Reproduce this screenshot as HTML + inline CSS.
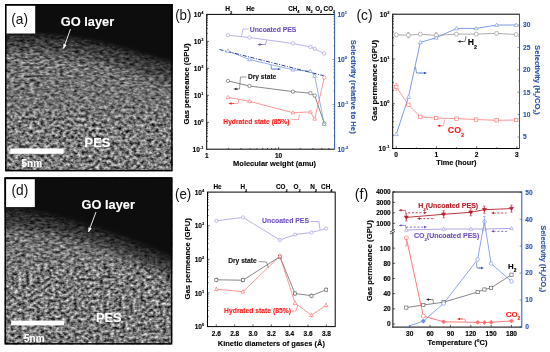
<!DOCTYPE html>
<html><head><meta charset="utf-8"><title>Figure</title>
<style>
html,body{margin:0;padding:0;background:#fff;}
body{width:550px;height:352px;overflow:hidden;}
svg{display:block;font-family:'Liberation Sans', Arial, sans-serif;}

</style></head>
<body>
<svg width="550" height="352" viewBox="0 0 550 352">
<defs>
<filter id="streaka" x="5.1" y="4.1" width="167.5" height="167.2" filterUnits="userSpaceOnUse" color-interpolation-filters="sRGB">
<feTurbulence type="fractalNoise" baseFrequency="0.2 0.45" numOctaves="2" seed="10"/>
<feColorMatrix type="matrix" values="1.3 0 0 0 -0.22  1.3 0 0 0 -0.22  1.3 0 0 0 -0.22  0 0 0 0 1"/>
</filter>
<linearGradient id="sgrada" x1="0" y1="40" x2="0" y2="125" gradientUnits="userSpaceOnUse"><stop offset="0" stop-color="#fff" stop-opacity="0.85"/><stop offset="0.55" stop-color="#fff" stop-opacity="0.6"/><stop offset="1" stop-color="#fff" stop-opacity="0"/></linearGradient>
<mask id="smaska" maskUnits="userSpaceOnUse" x="5.1" y="4.1" width="167.5" height="167.2"><rect x="5.1" y="4.1" width="167.5" height="167.2" fill="url(#sgrada)"/></mask>
<clipPath id="clipa"><rect x="5.1" y="4.1" width="167.5" height="167.2"/></clipPath>
<filter id="noisea" x="5.1" y="4.1" width="167.5" height="167.2" filterUnits="userSpaceOnUse" color-interpolation-filters="sRGB">
<feTurbulence type="fractalNoise" baseFrequency="0.27 0.33" numOctaves="2" seed="7"/>
<feColorMatrix type="matrix" values="1.3 0 0 0 -0.18  1.3 0 0 0 -0.18  1.3 0 0 0 -0.18  0 0 0 0 1"/>
</filter>
<filter id="blura" x="-20%" y="-20%" width="140%" height="140%"><feGaussianBlur stdDeviation="2.8"/></filter>
<filter id="blurba" x="-20%" y="-20%" width="140%" height="140%"><feGaussianBlur stdDeviation="6"/></filter>
<filter id="streakd" x="4.6" y="177.4" width="167.7" height="167.1" filterUnits="userSpaceOnUse" color-interpolation-filters="sRGB">
<feTurbulence type="fractalNoise" baseFrequency="0.2 0.45" numOctaves="2" seed="14"/>
<feColorMatrix type="matrix" values="1.3 0 0 0 -0.22  1.3 0 0 0 -0.22  1.3 0 0 0 -0.22  0 0 0 0 1"/>
</filter>
<linearGradient id="sgradd" x1="0" y1="215" x2="0" y2="270" gradientUnits="userSpaceOnUse"><stop offset="0" stop-color="#fff" stop-opacity="0.85"/><stop offset="0.55" stop-color="#fff" stop-opacity="0.6"/><stop offset="1" stop-color="#fff" stop-opacity="0"/></linearGradient>
<mask id="smaskd" maskUnits="userSpaceOnUse" x="4.6" y="177.4" width="167.7" height="167.1"><rect x="4.6" y="177.4" width="167.7" height="167.1" fill="url(#sgradd)"/></mask>
<clipPath id="clipd"><rect x="4.6" y="177.4" width="167.7" height="167.1"/></clipPath>
<filter id="noised" x="4.6" y="177.4" width="167.7" height="167.1" filterUnits="userSpaceOnUse" color-interpolation-filters="sRGB">
<feTurbulence type="fractalNoise" baseFrequency="0.27 0.33" numOctaves="2" seed="11"/>
<feColorMatrix type="matrix" values="1.3 0 0 0 -0.18  1.3 0 0 0 -0.18  1.3 0 0 0 -0.18  0 0 0 0 1"/>
</filter>
<filter id="blurd" x="-20%" y="-20%" width="140%" height="140%"><feGaussianBlur stdDeviation="2.8"/></filter>
<filter id="blurbd" x="-20%" y="-20%" width="140%" height="140%"><feGaussianBlur stdDeviation="6"/></filter>
</defs>
<rect x="0" y="0" width="550" height="352" fill="#fff"/>
<g clip-path="url(#clipa)">
<rect x="5.1" y="4.1" width="167.5" height="167.20000000000002" fill="#6e6e6e"/>
<rect x="5.1" y="4.1" width="167.5" height="167.20000000000002" filter="url(#noisea)"/>
<rect x="5.1" y="4.1" width="167.5" height="167.20000000000002" filter="url(#streaka)" mask="url(#smaska)"/>
<path d="M -10 -10 L 190 -10 L 190 88 C 160 80, 140 72, 120 66 C 95 58, 60 50, -10 48 Z" fill="#000" fill-opacity="0.5" filter="url(#blurba)"/>
<path d="M -10 -10 L 190 -10 L 190 67 C 160 62, 145 55, 125 50 C 100 43, 75 38, 40 35.5 C 25 34.5, 10 34, -10 34 Z" fill="#0a0a0a" filter="url(#blura)"/>
</g>
<rect x="5.8" y="4.8" width="166.1" height="165.8" fill="none" stroke="#000" stroke-width="1.4"/>
<rect x="6.6" y="5.8" width="28.6" height="27.7" fill="#fff"/>
<text x="19.7" y="24.3" font-size="15" fill="#111" text-anchor="middle" textLength="16.8" lengthAdjust="spacingAndGlyphs">(a)</text>
<text x="60.8" y="26.3" font-size="12.8" fill="#fff" font-weight="bold" text-anchor="start"  stroke="#fff" stroke-width="0.12">GO layer</text>
<line x1="70.50" y1="29.00" x2="63.50" y2="48.50" stroke="#fff" stroke-width="0.9" />
<polygon points="63.5,48.5 63.3,43.7 66.7,44.9" fill="#fff"/>
<text x="84.6" y="147.0" font-size="12.8" fill="#fff" font-weight="bold" text-anchor="start"  stroke="#fff" stroke-width="0.12">PES</text>
<rect x="10.2" y="148.4" width="53.2" height="5.400000000000006" fill="#fff"/>
<text x="21.5" y="167.3" font-size="10" fill="#fff" font-weight="bold" text-anchor="start"  stroke="#fff" stroke-width="0.12">5nm</text>
<g clip-path="url(#clipd)">
<rect x="4.6" y="177.4" width="167.70000000000002" height="167.1" fill="#6e6e6e"/>
<rect x="4.6" y="177.4" width="167.70000000000002" height="167.1" filter="url(#noised)"/>
<rect x="4.6" y="177.4" width="167.70000000000002" height="167.1" filter="url(#streakd)" mask="url(#smaskd)"/>
<path d="M -10 160 L 190 160 L 190 284 C 165 272, 140 261, 115 251 C 90 241, 60 231, -10 225 Z" fill="#000" fill-opacity="0.6" filter="url(#blurbd)"/>
<path d="M -10 160 L 190 160 L 190 266 C 170 258, 150 249, 125 239 C 100 230, 65 219, 30 211.5 C 15 209.5, 5 208.5, -10 208.5 Z" fill="#0a0a0a" filter="url(#blurd)"/>
</g>
<rect x="5.3" y="178.1" width="166.3" height="165.7" fill="none" stroke="#000" stroke-width="1.4"/>
<rect x="6.1" y="179.2" width="28.699999999999996" height="27.900000000000006" fill="#fff"/>
<text x="19.9" y="194.9" font-size="15" fill="#111" text-anchor="middle" textLength="16.8" lengthAdjust="spacingAndGlyphs">(d)</text>
<text x="81.6" y="208.8" font-size="12.8" fill="#fff" font-weight="bold" text-anchor="start"  stroke="#fff" stroke-width="0.12">GO layer</text>
<line x1="96.00" y1="212.00" x2="88.50" y2="232.00" stroke="#fff" stroke-width="0.9" />
<polygon points="88.5,232.0 88.4,227.2 91.8,228.4" fill="#fff"/>
<text x="96.0" y="321.5" font-size="12.8" fill="#fff" font-weight="bold" text-anchor="start"  stroke="#fff" stroke-width="0.12">PES</text>
<rect x="11.2" y="320.6" width="52.8" height="4.7999999999999545" fill="#fff"/>
<text x="24.0" y="342.1" font-size="10" fill="#fff" font-weight="bold" text-anchor="start"  stroke="#fff" stroke-width="0.12">5nm</text>
<text x="183.3" y="19.8" font-size="15" fill="#111" text-anchor="middle" textLength="16.2" lengthAdjust="spacingAndGlyphs">(b)</text>
<text x="364.5" y="19.8" font-size="15" fill="#111" text-anchor="middle" textLength="16.2" lengthAdjust="spacingAndGlyphs">(c)</text>
<text x="183.2" y="198.7" font-size="15" fill="#111" text-anchor="middle" textLength="16.2" lengthAdjust="spacingAndGlyphs">(e)</text>
<text x="361.5" y="198.7" font-size="15" fill="#111" text-anchor="middle" textLength="13.6" lengthAdjust="spacingAndGlyphs">(f)</text>
<line x1="206.70" y1="141.27" x2="207.90" y2="141.27" stroke="#000" stroke-width="0.6" />
<line x1="206.70" y1="136.52" x2="207.90" y2="136.52" stroke="#000" stroke-width="0.6" />
<line x1="206.70" y1="133.14" x2="207.90" y2="133.14" stroke="#000" stroke-width="0.6" />
<line x1="206.70" y1="130.53" x2="207.90" y2="130.53" stroke="#000" stroke-width="0.6" />
<line x1="206.70" y1="128.39" x2="207.90" y2="128.39" stroke="#000" stroke-width="0.6" />
<line x1="206.70" y1="126.58" x2="207.90" y2="126.58" stroke="#000" stroke-width="0.6" />
<line x1="206.70" y1="125.02" x2="207.90" y2="125.02" stroke="#000" stroke-width="0.6" />
<line x1="206.70" y1="123.64" x2="207.90" y2="123.64" stroke="#000" stroke-width="0.6" />
<line x1="206.70" y1="122.40" x2="208.90" y2="122.40" stroke="#000" stroke-width="0.6" />
<line x1="206.70" y1="114.27" x2="207.90" y2="114.27" stroke="#000" stroke-width="0.6" />
<line x1="206.70" y1="109.52" x2="207.90" y2="109.52" stroke="#000" stroke-width="0.6" />
<line x1="206.70" y1="106.14" x2="207.90" y2="106.14" stroke="#000" stroke-width="0.6" />
<line x1="206.70" y1="103.53" x2="207.90" y2="103.53" stroke="#000" stroke-width="0.6" />
<line x1="206.70" y1="101.39" x2="207.90" y2="101.39" stroke="#000" stroke-width="0.6" />
<line x1="206.70" y1="99.58" x2="207.90" y2="99.58" stroke="#000" stroke-width="0.6" />
<line x1="206.70" y1="98.02" x2="207.90" y2="98.02" stroke="#000" stroke-width="0.6" />
<line x1="206.70" y1="96.64" x2="207.90" y2="96.64" stroke="#000" stroke-width="0.6" />
<line x1="206.70" y1="95.40" x2="208.90" y2="95.40" stroke="#000" stroke-width="0.6" />
<line x1="206.70" y1="87.27" x2="207.90" y2="87.27" stroke="#000" stroke-width="0.6" />
<line x1="206.70" y1="82.52" x2="207.90" y2="82.52" stroke="#000" stroke-width="0.6" />
<line x1="206.70" y1="79.14" x2="207.90" y2="79.14" stroke="#000" stroke-width="0.6" />
<line x1="206.70" y1="76.53" x2="207.90" y2="76.53" stroke="#000" stroke-width="0.6" />
<line x1="206.70" y1="74.39" x2="207.90" y2="74.39" stroke="#000" stroke-width="0.6" />
<line x1="206.70" y1="72.58" x2="207.90" y2="72.58" stroke="#000" stroke-width="0.6" />
<line x1="206.70" y1="71.02" x2="207.90" y2="71.02" stroke="#000" stroke-width="0.6" />
<line x1="206.70" y1="69.64" x2="207.90" y2="69.64" stroke="#000" stroke-width="0.6" />
<line x1="206.70" y1="68.40" x2="208.90" y2="68.40" stroke="#000" stroke-width="0.6" />
<line x1="206.70" y1="60.27" x2="207.90" y2="60.27" stroke="#000" stroke-width="0.6" />
<line x1="206.70" y1="55.52" x2="207.90" y2="55.52" stroke="#000" stroke-width="0.6" />
<line x1="206.70" y1="52.14" x2="207.90" y2="52.14" stroke="#000" stroke-width="0.6" />
<line x1="206.70" y1="49.53" x2="207.90" y2="49.53" stroke="#000" stroke-width="0.6" />
<line x1="206.70" y1="47.39" x2="207.90" y2="47.39" stroke="#000" stroke-width="0.6" />
<line x1="206.70" y1="45.58" x2="207.90" y2="45.58" stroke="#000" stroke-width="0.6" />
<line x1="206.70" y1="44.02" x2="207.90" y2="44.02" stroke="#000" stroke-width="0.6" />
<line x1="206.70" y1="42.64" x2="207.90" y2="42.64" stroke="#000" stroke-width="0.6" />
<line x1="206.70" y1="41.40" x2="208.90" y2="41.40" stroke="#000" stroke-width="0.6" />
<line x1="206.70" y1="33.27" x2="207.90" y2="33.27" stroke="#000" stroke-width="0.6" />
<line x1="206.70" y1="28.52" x2="207.90" y2="28.52" stroke="#000" stroke-width="0.6" />
<line x1="206.70" y1="25.14" x2="207.90" y2="25.14" stroke="#000" stroke-width="0.6" />
<line x1="206.70" y1="22.53" x2="207.90" y2="22.53" stroke="#000" stroke-width="0.6" />
<line x1="206.70" y1="20.39" x2="207.90" y2="20.39" stroke="#000" stroke-width="0.6" />
<line x1="206.70" y1="18.58" x2="207.90" y2="18.58" stroke="#000" stroke-width="0.6" />
<line x1="206.70" y1="17.02" x2="207.90" y2="17.02" stroke="#000" stroke-width="0.6" />
<line x1="206.70" y1="15.64" x2="207.90" y2="15.64" stroke="#000" stroke-width="0.6" />
<line x1="334.60" y1="135.85" x2="333.40" y2="135.85" stroke="#2b55b0" stroke-width="0.6" />
<line x1="334.60" y1="127.93" x2="333.40" y2="127.93" stroke="#2b55b0" stroke-width="0.6" />
<line x1="334.60" y1="122.31" x2="333.40" y2="122.31" stroke="#2b55b0" stroke-width="0.6" />
<line x1="334.60" y1="117.95" x2="333.40" y2="117.95" stroke="#2b55b0" stroke-width="0.6" />
<line x1="334.60" y1="114.38" x2="333.40" y2="114.38" stroke="#2b55b0" stroke-width="0.6" />
<line x1="334.60" y1="111.37" x2="333.40" y2="111.37" stroke="#2b55b0" stroke-width="0.6" />
<line x1="334.60" y1="108.76" x2="333.40" y2="108.76" stroke="#2b55b0" stroke-width="0.6" />
<line x1="334.60" y1="106.46" x2="333.40" y2="106.46" stroke="#2b55b0" stroke-width="0.6" />
<line x1="334.60" y1="104.40" x2="332.40" y2="104.40" stroke="#2b55b0" stroke-width="0.6" />
<line x1="334.60" y1="90.85" x2="333.40" y2="90.85" stroke="#2b55b0" stroke-width="0.6" />
<line x1="334.60" y1="82.93" x2="333.40" y2="82.93" stroke="#2b55b0" stroke-width="0.6" />
<line x1="334.60" y1="77.31" x2="333.40" y2="77.31" stroke="#2b55b0" stroke-width="0.6" />
<line x1="334.60" y1="72.95" x2="333.40" y2="72.95" stroke="#2b55b0" stroke-width="0.6" />
<line x1="334.60" y1="69.38" x2="333.40" y2="69.38" stroke="#2b55b0" stroke-width="0.6" />
<line x1="334.60" y1="66.37" x2="333.40" y2="66.37" stroke="#2b55b0" stroke-width="0.6" />
<line x1="334.60" y1="63.76" x2="333.40" y2="63.76" stroke="#2b55b0" stroke-width="0.6" />
<line x1="334.60" y1="61.46" x2="333.40" y2="61.46" stroke="#2b55b0" stroke-width="0.6" />
<line x1="334.60" y1="59.40" x2="332.40" y2="59.40" stroke="#2b55b0" stroke-width="0.6" />
<line x1="334.60" y1="45.85" x2="333.40" y2="45.85" stroke="#2b55b0" stroke-width="0.6" />
<line x1="334.60" y1="37.93" x2="333.40" y2="37.93" stroke="#2b55b0" stroke-width="0.6" />
<line x1="334.60" y1="32.31" x2="333.40" y2="32.31" stroke="#2b55b0" stroke-width="0.6" />
<line x1="334.60" y1="27.95" x2="333.40" y2="27.95" stroke="#2b55b0" stroke-width="0.6" />
<line x1="334.60" y1="24.38" x2="333.40" y2="24.38" stroke="#2b55b0" stroke-width="0.6" />
<line x1="334.60" y1="21.37" x2="333.40" y2="21.37" stroke="#2b55b0" stroke-width="0.6" />
<line x1="334.60" y1="18.76" x2="333.40" y2="18.76" stroke="#2b55b0" stroke-width="0.6" />
<line x1="334.60" y1="16.46" x2="333.40" y2="16.46" stroke="#2b55b0" stroke-width="0.6" />
<line x1="228.34" y1="149.20" x2="228.34" y2="148.00" stroke="#000" stroke-width="0.6" />
<line x1="241.01" y1="149.20" x2="241.01" y2="148.00" stroke="#000" stroke-width="0.6" />
<line x1="249.99" y1="149.20" x2="249.99" y2="148.00" stroke="#000" stroke-width="0.6" />
<line x1="256.96" y1="149.20" x2="256.96" y2="148.00" stroke="#000" stroke-width="0.6" />
<line x1="262.65" y1="149.20" x2="262.65" y2="148.00" stroke="#000" stroke-width="0.6" />
<line x1="267.46" y1="149.20" x2="267.46" y2="148.00" stroke="#000" stroke-width="0.6" />
<line x1="271.63" y1="149.20" x2="271.63" y2="148.00" stroke="#000" stroke-width="0.6" />
<line x1="275.31" y1="149.20" x2="275.31" y2="148.00" stroke="#000" stroke-width="0.6" />
<line x1="278.60" y1="149.20" x2="278.60" y2="147.00" stroke="#000" stroke-width="0.6" />
<line x1="300.24" y1="149.20" x2="300.24" y2="148.00" stroke="#000" stroke-width="0.6" />
<line x1="312.91" y1="149.20" x2="312.91" y2="148.00" stroke="#000" stroke-width="0.6" />
<line x1="321.89" y1="149.20" x2="321.89" y2="148.00" stroke="#000" stroke-width="0.6" />
<line x1="328.86" y1="149.20" x2="328.86" y2="148.00" stroke="#000" stroke-width="0.6" />
<line x1="206.70" y1="14.40" x2="334.60" y2="14.40" stroke="#000" stroke-width="1.0" />
<line x1="206.70" y1="13.90" x2="206.70" y2="149.70" stroke="#000" stroke-width="1.0" />
<line x1="206.20" y1="149.20" x2="334.60" y2="149.20" stroke="#000" stroke-width="1.0" />
<line x1="334.60" y1="12.90" x2="334.60" y2="149.70" stroke="#2b55b0" stroke-width="1.0" />
<text x="203.4" y="152.0" font-size="6.6" fill="#000" font-weight="bold" text-anchor="end" stroke="#000" stroke-width="0.12">10<tspan font-size="3.96" dy="-2.97">-1</tspan></text>
<text x="203.4" y="125.0" font-size="6.6" fill="#000" font-weight="bold" text-anchor="end" stroke="#000" stroke-width="0.12">10<tspan font-size="3.96" dy="-2.97">0</tspan></text>
<text x="203.4" y="98.0" font-size="6.6" fill="#000" font-weight="bold" text-anchor="end" stroke="#000" stroke-width="0.12">10<tspan font-size="3.96" dy="-2.97">1</tspan></text>
<text x="203.4" y="71.0" font-size="6.6" fill="#000" font-weight="bold" text-anchor="end" stroke="#000" stroke-width="0.12">10<tspan font-size="3.96" dy="-2.97">2</tspan></text>
<text x="203.4" y="44.0" font-size="6.6" fill="#000" font-weight="bold" text-anchor="end" stroke="#000" stroke-width="0.12">10<tspan font-size="3.96" dy="-2.97">3</tspan></text>
<text x="203.4" y="17.0" font-size="6.6" fill="#000" font-weight="bold" text-anchor="end" stroke="#000" stroke-width="0.12">10<tspan font-size="3.96" dy="-2.97">4</tspan></text>
<text x="337.4" y="152.0" font-size="6.6" fill="#2b55b0" font-weight="bold" text-anchor="start" stroke="#2b55b0" stroke-width="0.12">10<tspan font-size="3.96" dy="-2.97">-2</tspan></text>
<text x="337.4" y="107.0" font-size="6.6" fill="#2b55b0" font-weight="bold" text-anchor="start" stroke="#2b55b0" stroke-width="0.12">10<tspan font-size="3.96" dy="-2.97">-1</tspan></text>
<text x="337.4" y="62.0" font-size="6.6" fill="#2b55b0" font-weight="bold" text-anchor="start" stroke="#2b55b0" stroke-width="0.12">10<tspan font-size="3.96" dy="-2.97">0</tspan></text>
<text x="337.4" y="17.0" font-size="6.6" fill="#2b55b0" font-weight="bold" text-anchor="start" stroke="#2b55b0" stroke-width="0.12">10<tspan font-size="3.96" dy="-2.97">1</tspan></text>
<text x="206.7" y="158.2" font-size="6.5" fill="#000" font-weight="bold" text-anchor="middle"  stroke="#000" stroke-width="0.12">1</text>
<text x="278.6" y="158.2" font-size="6.5" fill="#000" font-weight="bold" text-anchor="middle"  stroke="#000" stroke-width="0.12">10</text>
<text x="274.6" y="165.7" font-size="7.7" fill="#000" font-weight="bold" text-anchor="middle" textLength="83" lengthAdjust="spacingAndGlyphs" stroke="#000" stroke-width="0.12">Molecular weight (amu)</text>
<text transform="translate(189.4,84) rotate(-90)" font-size="7.7" font-weight="bold" text-anchor="middle" fill="#000" stroke="#000" stroke-width="0.12">Gas permeance (GPU)</text>
<text transform="translate(350.8,86.75) rotate(90)" font-size="7.73" font-weight="bold" text-anchor="middle" fill="#2b55b0" stroke="#2b55b0" stroke-width="0.12">Selectivity (relative to He)</text>
<text x="228.8" y="10.8" font-size="6.6" fill="#000" font-weight="bold" text-anchor="middle" stroke="#000" stroke-width="0.12">H<tspan font-size="4.09" dy="2.77">2</tspan><tspan dy="-2.77"></tspan></text>
<text x="250.5" y="10.8" font-size="6.6" fill="#000" font-weight="bold" text-anchor="middle"  stroke="#000" stroke-width="0.12">He</text>
<text x="293.8" y="10.8" font-size="6.3" fill="#000" font-weight="bold" text-anchor="middle" stroke="#000" stroke-width="0.12">CH<tspan font-size="3.91" dy="2.65">4</tspan><tspan dy="-2.65"></tspan></text>
<text x="309.3" y="10.8" font-size="6.3" fill="#000" font-weight="bold" text-anchor="middle" stroke="#000" stroke-width="0.12">N<tspan font-size="3.91" dy="2.65">2</tspan><tspan dy="-2.65"></tspan></text>
<text x="318.7" y="10.8" font-size="6.3" fill="#000" font-weight="bold" text-anchor="middle" stroke="#000" stroke-width="0.12">O<tspan font-size="3.91" dy="2.65">2</tspan><tspan dy="-2.65"></tspan></text>
<text x="329.4" y="10.8" font-size="6.3" fill="#000" font-weight="bold" text-anchor="middle" stroke="#000" stroke-width="0.12">CO<tspan font-size="3.91" dy="2.65">2</tspan><tspan dy="-2.65"></tspan></text>
<polyline points="228.0,35.2 249.5,37.5 292.9,43.5 310.4,46.9 314.7,48.9 324.3,53.5" fill="none" stroke="#9d8fdc" stroke-width="0.7" />
<polyline points="228.0,80.9 249.5,86.0 292.9,91.6 310.4,93.2 314.7,95.6 324.3,123.5" fill="none" stroke="#555555" stroke-width="0.7" />
<polyline points="228.0,97.3 249.5,101.3 292.9,112.7 310.4,111.9 314.7,118.9 324.3,77.6" fill="none" stroke="#ff6a6a" stroke-width="0.7" />
<polyline points="228.0,51.0 249.5,59.6 292.9,69.8 310.4,71.2 314.7,76.0 324.3,124.3" fill="none" stroke="#6f8fe0" stroke-width="0.7" />
<line x1="219.50" y1="49.50" x2="323.70" y2="75.70" stroke="#2a3f9a" stroke-width="1.0" stroke-dasharray="4,1.5,1,1.5"/>
<circle cx="228.0" cy="35.2" r="1.7" fill="#fff" stroke="#9d8fdc" stroke-width="0.6"/>
<circle cx="249.5" cy="37.5" r="1.7" fill="#fff" stroke="#9d8fdc" stroke-width="0.6"/>
<circle cx="292.9" cy="43.5" r="1.7" fill="#fff" stroke="#9d8fdc" stroke-width="0.6"/>
<circle cx="310.4" cy="46.9" r="1.7" fill="#fff" stroke="#9d8fdc" stroke-width="0.6"/>
<circle cx="314.7" cy="48.9" r="1.7" fill="#fff" stroke="#9d8fdc" stroke-width="0.6"/>
<circle cx="324.3" cy="53.5" r="1.7" fill="#fff" stroke="#9d8fdc" stroke-width="0.6"/>
<circle cx="228.0" cy="80.9" r="1.7" fill="#fff" stroke="#555555" stroke-width="0.6"/>
<circle cx="249.5" cy="86.0" r="1.7" fill="#fff" stroke="#555555" stroke-width="0.6"/>
<circle cx="292.9" cy="91.6" r="1.7" fill="#fff" stroke="#555555" stroke-width="0.6"/>
<circle cx="310.4" cy="93.2" r="1.7" fill="#fff" stroke="#555555" stroke-width="0.6"/>
<circle cx="314.7" cy="95.6" r="1.7" fill="#fff" stroke="#555555" stroke-width="0.6"/>
<circle cx="324.3" cy="123.5" r="1.7" fill="#fff" stroke="#555555" stroke-width="0.6"/>
<polygon points="226.1,98.6 229.9,98.6 228.0,95.4" fill="#fff" stroke="#ff6a6a" stroke-width="0.6"/>
<polygon points="247.6,102.6 251.4,102.6 249.5,99.4" fill="#fff" stroke="#ff6a6a" stroke-width="0.6"/>
<polygon points="291.0,114.0 294.8,114.0 292.9,110.8" fill="#fff" stroke="#ff6a6a" stroke-width="0.6"/>
<polygon points="308.5,113.2 312.3,113.2 310.4,110.0" fill="#fff" stroke="#ff6a6a" stroke-width="0.6"/>
<polygon points="312.8,120.2 316.6,120.2 314.7,117.0" fill="#fff" stroke="#ff6a6a" stroke-width="0.6"/>
<circle cx="324.3" cy="77.6" r="1.7" fill="#fff" stroke="#ff6a6a" stroke-width="0.6"/>
<polygon points="226.1,52.3 229.9,52.3 228.0,49.1" fill="#fff" stroke="#6f8fe0" stroke-width="0.6"/>
<polygon points="247.6,60.9 251.4,60.9 249.5,57.7" fill="#fff" stroke="#6f8fe0" stroke-width="0.6"/>
<polygon points="291.0,71.1 294.8,71.1 292.9,67.9" fill="#fff" stroke="#6f8fe0" stroke-width="0.6"/>
<polygon points="308.5,72.5 312.3,72.5 310.4,69.3" fill="#fff" stroke="#6f8fe0" stroke-width="0.6"/>
<polygon points="312.8,77.3 316.6,77.3 314.7,74.1" fill="#fff" stroke="#6f8fe0" stroke-width="0.6"/>
<polygon points="322.4,125.6 326.2,125.6 324.3,122.4" fill="#fff" stroke="#6f8fe0" stroke-width="0.6"/>
<text x="249.8" y="31.5" font-size="7.0" fill="#7050c0" font-weight="bold" text-anchor="start" textLength="46.5" lengthAdjust="spacingAndGlyphs" stroke="#7050c0" stroke-width="0.12">Uncoated PES</text>
<polyline points="248.5,29.0 243.0,29.0 241.5,36.3" fill="none" stroke="#9d8fdc" stroke-width="0.6" />
<polyline points="259.0,44.5 265.5,44.5 266.5,40.5" fill="none" stroke="#7050c0" stroke-width="0.6" />
<line x1="259.30" y1="44.50" x2="262.00" y2="44.50" stroke="#7050c0" stroke-width="0.8" />
<polygon points="257.3,44.5 260.3,43.3 260.3,45.7" fill="#7050c0"/>
<polyline points="246.6,77.0 240.5,77.0 239.5,89.0 237.0,89.0" fill="none" stroke="#555555" stroke-width="0.6" />
<text x="248.0" y="78.6" font-size="6.9" fill="#111" font-weight="bold" text-anchor="start" textLength="28.3" lengthAdjust="spacingAndGlyphs" stroke="#111" stroke-width="0.12">Dry state</text>
<line x1="235.50" y1="89.00" x2="238.00" y2="89.00" stroke="#222" stroke-width="0.8" />
<polygon points="233.5,89.0 236.5,87.8 236.5,90.2" fill="#222"/>
<text x="223.3" y="123.5" font-size="6.9" fill="#ff1c1c" font-weight="bold" text-anchor="start" textLength="66.2" lengthAdjust="spacingAndGlyphs" stroke="#ff1c1c" stroke-width="0.12">Hydrated state (85%)</text>
<polyline points="291.5,119.5 298.5,119.5 299.5,114.3" fill="none" stroke="#ff6a6a" stroke-width="0.6" />
<polyline points="234.0,103.5 238.0,103.5 239.0,99.5" fill="none" stroke="#ff6a6a" stroke-width="0.6" />
<line x1="230.50" y1="103.50" x2="234.00" y2="103.50" stroke="#ff1c1c" stroke-width="0.8" />
<polygon points="228.5,103.5 231.5,102.3 231.5,104.7" fill="#ff1c1c"/>
<polyline points="271.0,65.0 271.4,69.1" fill="none" stroke="#2b55b0" stroke-width="0.6" />
<line x1="271.40" y1="69.10" x2="279.00" y2="69.10" stroke="#2b55b0" stroke-width="0.8" />
<polygon points="281.0,69.1 278.0,67.9 278.0,70.3" fill="#2b55b0"/>
<line x1="392.70" y1="148.60" x2="394.90" y2="148.60" stroke="#000" stroke-width="0.6" />
<line x1="392.70" y1="135.11" x2="393.90" y2="135.11" stroke="#000" stroke-width="0.6" />
<line x1="392.70" y1="127.22" x2="393.90" y2="127.22" stroke="#000" stroke-width="0.6" />
<line x1="392.70" y1="121.63" x2="393.90" y2="121.63" stroke="#000" stroke-width="0.6" />
<line x1="392.70" y1="117.29" x2="393.90" y2="117.29" stroke="#000" stroke-width="0.6" />
<line x1="392.70" y1="113.74" x2="393.90" y2="113.74" stroke="#000" stroke-width="0.6" />
<line x1="392.70" y1="110.74" x2="393.90" y2="110.74" stroke="#000" stroke-width="0.6" />
<line x1="392.70" y1="108.14" x2="393.90" y2="108.14" stroke="#000" stroke-width="0.6" />
<line x1="392.70" y1="105.85" x2="393.90" y2="105.85" stroke="#000" stroke-width="0.6" />
<line x1="392.70" y1="103.80" x2="394.90" y2="103.80" stroke="#000" stroke-width="0.6" />
<line x1="392.70" y1="90.31" x2="393.90" y2="90.31" stroke="#000" stroke-width="0.6" />
<line x1="392.70" y1="82.42" x2="393.90" y2="82.42" stroke="#000" stroke-width="0.6" />
<line x1="392.70" y1="76.83" x2="393.90" y2="76.83" stroke="#000" stroke-width="0.6" />
<line x1="392.70" y1="72.49" x2="393.90" y2="72.49" stroke="#000" stroke-width="0.6" />
<line x1="392.70" y1="68.94" x2="393.90" y2="68.94" stroke="#000" stroke-width="0.6" />
<line x1="392.70" y1="65.94" x2="393.90" y2="65.94" stroke="#000" stroke-width="0.6" />
<line x1="392.70" y1="63.34" x2="393.90" y2="63.34" stroke="#000" stroke-width="0.6" />
<line x1="392.70" y1="61.05" x2="393.90" y2="61.05" stroke="#000" stroke-width="0.6" />
<line x1="392.70" y1="59.00" x2="394.90" y2="59.00" stroke="#000" stroke-width="0.6" />
<line x1="392.70" y1="45.51" x2="393.90" y2="45.51" stroke="#000" stroke-width="0.6" />
<line x1="392.70" y1="37.62" x2="393.90" y2="37.62" stroke="#000" stroke-width="0.6" />
<line x1="392.70" y1="32.03" x2="393.90" y2="32.03" stroke="#000" stroke-width="0.6" />
<line x1="392.70" y1="27.69" x2="393.90" y2="27.69" stroke="#000" stroke-width="0.6" />
<line x1="392.70" y1="24.14" x2="393.90" y2="24.14" stroke="#000" stroke-width="0.6" />
<line x1="392.70" y1="21.14" x2="393.90" y2="21.14" stroke="#000" stroke-width="0.6" />
<line x1="392.70" y1="18.54" x2="393.90" y2="18.54" stroke="#000" stroke-width="0.6" />
<line x1="392.70" y1="16.25" x2="393.90" y2="16.25" stroke="#000" stroke-width="0.6" />
<line x1="519.50" y1="137.00" x2="517.30" y2="137.00" stroke="#2b55b0" stroke-width="0.6" />
<text x="523.0" y="139.3" font-size="6.6" fill="#2b55b0" font-weight="bold" text-anchor="start"  stroke="#2b55b0" stroke-width="0.12">5</text>
<line x1="519.50" y1="114.60" x2="517.30" y2="114.60" stroke="#2b55b0" stroke-width="0.6" />
<text x="523.0" y="116.9" font-size="6.6" fill="#2b55b0" font-weight="bold" text-anchor="start"  stroke="#2b55b0" stroke-width="0.12">10</text>
<line x1="519.50" y1="92.20" x2="517.30" y2="92.20" stroke="#2b55b0" stroke-width="0.6" />
<text x="523.0" y="94.5" font-size="6.6" fill="#2b55b0" font-weight="bold" text-anchor="start"  stroke="#2b55b0" stroke-width="0.12">15</text>
<line x1="519.50" y1="69.80" x2="517.30" y2="69.80" stroke="#2b55b0" stroke-width="0.6" />
<text x="523.0" y="72.1" font-size="6.6" fill="#2b55b0" font-weight="bold" text-anchor="start"  stroke="#2b55b0" stroke-width="0.12">20</text>
<line x1="519.50" y1="47.40" x2="517.30" y2="47.40" stroke="#2b55b0" stroke-width="0.6" />
<text x="523.0" y="49.7" font-size="6.6" fill="#2b55b0" font-weight="bold" text-anchor="start"  stroke="#2b55b0" stroke-width="0.12">25</text>
<line x1="519.50" y1="25.00" x2="517.30" y2="25.00" stroke="#2b55b0" stroke-width="0.6" />
<text x="523.0" y="27.3" font-size="6.6" fill="#2b55b0" font-weight="bold" text-anchor="start"  stroke="#2b55b0" stroke-width="0.12">30</text>
<line x1="519.50" y1="125.80" x2="518.30" y2="125.80" stroke="#2b55b0" stroke-width="0.6" />
<line x1="519.50" y1="103.40" x2="518.30" y2="103.40" stroke="#2b55b0" stroke-width="0.6" />
<line x1="519.50" y1="81.00" x2="518.30" y2="81.00" stroke="#2b55b0" stroke-width="0.6" />
<line x1="519.50" y1="58.60" x2="518.30" y2="58.60" stroke="#2b55b0" stroke-width="0.6" />
<line x1="519.50" y1="36.20" x2="518.30" y2="36.20" stroke="#2b55b0" stroke-width="0.6" />
<line x1="396.20" y1="148.50" x2="396.20" y2="146.30" stroke="#000" stroke-width="0.6" />
<text x="396.2" y="156.8" font-size="6.6" fill="#000" font-weight="bold" text-anchor="middle"  stroke="#000" stroke-width="0.12">0</text>
<line x1="416.30" y1="148.50" x2="416.30" y2="147.30" stroke="#000" stroke-width="0.6" />
<line x1="436.40" y1="148.50" x2="436.40" y2="146.30" stroke="#000" stroke-width="0.6" />
<text x="436.4" y="156.8" font-size="6.6" fill="#000" font-weight="bold" text-anchor="middle"  stroke="#000" stroke-width="0.12">1</text>
<line x1="456.50" y1="148.50" x2="456.50" y2="147.30" stroke="#000" stroke-width="0.6" />
<line x1="476.60" y1="148.50" x2="476.60" y2="146.30" stroke="#000" stroke-width="0.6" />
<text x="476.6" y="156.8" font-size="6.6" fill="#000" font-weight="bold" text-anchor="middle"  stroke="#000" stroke-width="0.12">2</text>
<line x1="496.70" y1="148.50" x2="496.70" y2="147.30" stroke="#000" stroke-width="0.6" />
<line x1="516.80" y1="148.50" x2="516.80" y2="146.30" stroke="#000" stroke-width="0.6" />
<text x="516.8" y="156.8" font-size="6.6" fill="#000" font-weight="bold" text-anchor="middle"  stroke="#000" stroke-width="0.12">3</text>
<line x1="392.70" y1="14.20" x2="519.50" y2="14.20" stroke="#000" stroke-width="1.0" />
<line x1="392.70" y1="13.70" x2="392.70" y2="149.00" stroke="#000" stroke-width="1.0" />
<line x1="392.20" y1="148.50" x2="519.50" y2="148.50" stroke="#000" stroke-width="1.0" />
<line x1="519.50" y1="13.70" x2="519.50" y2="149.00" stroke="#2b55b0" stroke-width="1.0" />
<text x="389.4" y="151.2" font-size="6.6" fill="#000" font-weight="bold" text-anchor="end" stroke="#000" stroke-width="0.12">10<tspan font-size="3.96" dy="-2.97">-1</tspan></text>
<text x="389.4" y="106.4" font-size="6.6" fill="#000" font-weight="bold" text-anchor="end" stroke="#000" stroke-width="0.12">10<tspan font-size="3.96" dy="-2.97">0</tspan></text>
<text x="389.4" y="61.6" font-size="6.6" fill="#000" font-weight="bold" text-anchor="end" stroke="#000" stroke-width="0.12">10<tspan font-size="3.96" dy="-2.97">1</tspan></text>
<text x="389.4" y="16.8" font-size="6.6" fill="#000" font-weight="bold" text-anchor="end" stroke="#000" stroke-width="0.12">10<tspan font-size="3.96" dy="-2.97">2</tspan></text>
<text x="456.4" y="164.8" font-size="7.7" fill="#000" font-weight="bold" text-anchor="middle" textLength="40.2" lengthAdjust="spacingAndGlyphs" stroke="#000" stroke-width="0.12">Time (hour)</text>
<text transform="translate(377,80.5) rotate(-90)" font-size="7.7" font-weight="bold" text-anchor="middle" fill="#000" stroke="#000" stroke-width="0.12">Gas permeance (GPU)</text>
<text transform="translate(535.1,79.8) rotate(90)" font-size="7.7" font-weight="bold" text-anchor="middle" fill="#2b55b0" stroke="#2b55b0" stroke-width="0.12">Selectivity (H<tspan font-size="4.4" dy="1.8">2</tspan><tspan dy="-1.8">/CO</tspan><tspan font-size="4.4" dy="1.8">2</tspan><tspan dy="-1.8">)</tspan></text>
<polyline points="396.3,34.8 408.4,35.2 420.3,34.2 436.2,35.4 456.5,34.1 476.2,34.1 496.6,33.4 516.2,34.5" fill="none" stroke="#8a8a8a" stroke-width="0.7" />
<polyline points="396.3,86.9 408.4,104.8 420.3,116.8 436.2,118.0 456.5,118.7 476.2,119.5 496.6,120.3 516.2,120.0" fill="none" stroke="#ff6a6a" stroke-width="0.7" />
<polyline points="396.3,134.2 408.4,97.1 420.3,42.4 436.2,37.8 456.5,28.4 476.2,28.4 496.6,25.0 516.2,25.0" fill="none" stroke="#6f8fe0" stroke-width="0.9" />
<circle cx="396.3" cy="34.8" r="2.0" fill="#fff" stroke="#8a8a8a" stroke-width="0.6"/>
<line x1="408.40" y1="32.40" x2="408.40" y2="38.00" stroke="#8a8a8a" stroke-width="0.5" />
<line x1="407.30" y1="32.40" x2="409.50" y2="32.40" stroke="#8a8a8a" stroke-width="0.5" />
<line x1="407.30" y1="38.00" x2="409.50" y2="38.00" stroke="#8a8a8a" stroke-width="0.5" />
<circle cx="408.4" cy="35.2" r="2.0" fill="#fff" stroke="#8a8a8a" stroke-width="0.6"/>
<circle cx="420.3" cy="34.2" r="2.0" fill="#fff" stroke="#8a8a8a" stroke-width="0.6"/>
<line x1="436.20" y1="32.60" x2="436.20" y2="38.20" stroke="#8a8a8a" stroke-width="0.5" />
<line x1="435.10" y1="32.60" x2="437.30" y2="32.60" stroke="#8a8a8a" stroke-width="0.5" />
<line x1="435.10" y1="38.20" x2="437.30" y2="38.20" stroke="#8a8a8a" stroke-width="0.5" />
<circle cx="436.2" cy="35.4" r="2.0" fill="#fff" stroke="#8a8a8a" stroke-width="0.6"/>
<circle cx="456.5" cy="34.1" r="2.0" fill="#fff" stroke="#8a8a8a" stroke-width="0.6"/>
<circle cx="476.2" cy="34.1" r="2.0" fill="#fff" stroke="#8a8a8a" stroke-width="0.6"/>
<circle cx="496.6" cy="33.4" r="2.0" fill="#fff" stroke="#8a8a8a" stroke-width="0.6"/>
<circle cx="516.2" cy="34.5" r="2.0" fill="#fff" stroke="#8a8a8a" stroke-width="0.6"/>
<line x1="396.30" y1="83.40" x2="396.30" y2="90.40" stroke="#ff6a6a" stroke-width="0.5" />
<line x1="395.20" y1="83.40" x2="397.40" y2="83.40" stroke="#ff6a6a" stroke-width="0.5" />
<line x1="395.20" y1="90.40" x2="397.40" y2="90.40" stroke="#ff6a6a" stroke-width="0.5" />
<rect x="394.6" y="85.2" width="3.4" height="3.4" fill="#fff" stroke="#ff6a6a" stroke-width="0.6"/>
<rect x="406.7" y="103.1" width="3.4" height="3.4" fill="#fff" stroke="#ff6a6a" stroke-width="0.6"/>
<rect x="418.6" y="115.1" width="3.4" height="3.4" fill="#fff" stroke="#ff6a6a" stroke-width="0.6"/>
<rect x="434.5" y="116.3" width="3.4" height="3.4" fill="#fff" stroke="#ff6a6a" stroke-width="0.6"/>
<rect x="454.8" y="117.0" width="3.4" height="3.4" fill="#fff" stroke="#ff6a6a" stroke-width="0.6"/>
<rect x="474.5" y="117.8" width="3.4" height="3.4" fill="#fff" stroke="#ff6a6a" stroke-width="0.6"/>
<rect x="494.9" y="118.6" width="3.4" height="3.4" fill="#fff" stroke="#ff6a6a" stroke-width="0.6"/>
<rect x="514.5" y="118.3" width="3.4" height="3.4" fill="#fff" stroke="#ff6a6a" stroke-width="0.6"/>
<polygon points="394.3,135.6 398.3,135.6 396.3,132.2" fill="#fff" stroke="#6f8fe0" stroke-width="0.6"/>
<polygon points="406.4,98.5 410.4,98.5 408.4,95.1" fill="#fff" stroke="#6f8fe0" stroke-width="0.6"/>
<polygon points="418.3,43.8 422.3,43.8 420.3,40.4" fill="#fff" stroke="#6f8fe0" stroke-width="0.6"/>
<polygon points="434.2,39.2 438.2,39.2 436.2,35.8" fill="#fff" stroke="#6f8fe0" stroke-width="0.6"/>
<polygon points="454.5,29.8 458.5,29.8 456.5,26.4" fill="#fff" stroke="#6f8fe0" stroke-width="0.6"/>
<polygon points="474.2,29.8 478.2,29.8 476.2,26.4" fill="#fff" stroke="#6f8fe0" stroke-width="0.6"/>
<polygon points="494.6,26.4 498.6,26.4 496.6,23.0" fill="#fff" stroke="#6f8fe0" stroke-width="0.6"/>
<polygon points="514.2,26.4 518.2,26.4 516.2,23.0" fill="#fff" stroke="#6f8fe0" stroke-width="0.6"/>
<text x="467.8" y="45.3" font-size="8.6" fill="#000" font-weight="bold" text-anchor="start" stroke="#000" stroke-width="0.12">H<tspan font-size="5.33" dy="3.61">2</tspan><tspan dy="-3.61"></tspan></text>
<polyline points="462.0,41.5 465.0,41.5 466.0,36.0" fill="none" stroke="#333" stroke-width="0.6" />
<line x1="459.50" y1="41.50" x2="463.00" y2="41.50" stroke="#222" stroke-width="0.8" />
<polygon points="457.5,41.5 460.5,40.3 460.5,42.7" fill="#222"/>
<text x="447.8" y="132.8" font-size="8.8" fill="#ff1c1c" font-weight="bold" text-anchor="start" stroke="#ff1c1c" stroke-width="0.12">CO<tspan font-size="5.46" dy="3.70">2</tspan><tspan dy="-3.70"></tspan></text>
<polyline points="440.0,125.8 443.5,125.8 444.5,119.5" fill="none" stroke="#ff6a6a" stroke-width="0.6" />
<line x1="439.00" y1="125.80" x2="441.00" y2="125.80" stroke="#ff1c1c" stroke-width="0.8" />
<polygon points="437.0,125.8 440.0,124.6 440.0,127.0" fill="#ff1c1c"/>
<polyline points="415.5,67.0 416.5,73.0 419.5,73.0" fill="none" stroke="#2b55b0" stroke-width="0.6" />
<line x1="419.00" y1="73.00" x2="425.00" y2="73.00" stroke="#2b55b0" stroke-width="0.8" />
<polygon points="427.0,73.0 424.0,71.8 424.0,74.2" fill="#2b55b0"/>
<line x1="207.50" y1="326.50" x2="209.70" y2="326.50" stroke="#000" stroke-width="0.6" />
<line x1="207.50" y1="316.39" x2="208.70" y2="316.39" stroke="#000" stroke-width="0.6" />
<line x1="207.50" y1="310.47" x2="208.70" y2="310.47" stroke="#000" stroke-width="0.6" />
<line x1="207.50" y1="306.27" x2="208.70" y2="306.27" stroke="#000" stroke-width="0.6" />
<line x1="207.50" y1="303.01" x2="208.70" y2="303.01" stroke="#000" stroke-width="0.6" />
<line x1="207.50" y1="300.35" x2="208.70" y2="300.35" stroke="#000" stroke-width="0.6" />
<line x1="207.50" y1="298.10" x2="208.70" y2="298.10" stroke="#000" stroke-width="0.6" />
<line x1="207.50" y1="296.16" x2="208.70" y2="296.16" stroke="#000" stroke-width="0.6" />
<line x1="207.50" y1="294.44" x2="208.70" y2="294.44" stroke="#000" stroke-width="0.6" />
<line x1="207.50" y1="292.90" x2="209.70" y2="292.90" stroke="#000" stroke-width="0.6" />
<line x1="207.50" y1="282.79" x2="208.70" y2="282.79" stroke="#000" stroke-width="0.6" />
<line x1="207.50" y1="276.87" x2="208.70" y2="276.87" stroke="#000" stroke-width="0.6" />
<line x1="207.50" y1="272.67" x2="208.70" y2="272.67" stroke="#000" stroke-width="0.6" />
<line x1="207.50" y1="269.41" x2="208.70" y2="269.41" stroke="#000" stroke-width="0.6" />
<line x1="207.50" y1="266.75" x2="208.70" y2="266.75" stroke="#000" stroke-width="0.6" />
<line x1="207.50" y1="264.50" x2="208.70" y2="264.50" stroke="#000" stroke-width="0.6" />
<line x1="207.50" y1="262.56" x2="208.70" y2="262.56" stroke="#000" stroke-width="0.6" />
<line x1="207.50" y1="260.84" x2="208.70" y2="260.84" stroke="#000" stroke-width="0.6" />
<line x1="207.50" y1="259.30" x2="209.70" y2="259.30" stroke="#000" stroke-width="0.6" />
<line x1="207.50" y1="249.19" x2="208.70" y2="249.19" stroke="#000" stroke-width="0.6" />
<line x1="207.50" y1="243.27" x2="208.70" y2="243.27" stroke="#000" stroke-width="0.6" />
<line x1="207.50" y1="239.07" x2="208.70" y2="239.07" stroke="#000" stroke-width="0.6" />
<line x1="207.50" y1="235.81" x2="208.70" y2="235.81" stroke="#000" stroke-width="0.6" />
<line x1="207.50" y1="233.15" x2="208.70" y2="233.15" stroke="#000" stroke-width="0.6" />
<line x1="207.50" y1="230.90" x2="208.70" y2="230.90" stroke="#000" stroke-width="0.6" />
<line x1="207.50" y1="228.96" x2="208.70" y2="228.96" stroke="#000" stroke-width="0.6" />
<line x1="207.50" y1="227.24" x2="208.70" y2="227.24" stroke="#000" stroke-width="0.6" />
<line x1="207.50" y1="225.70" x2="209.70" y2="225.70" stroke="#000" stroke-width="0.6" />
<line x1="207.50" y1="215.59" x2="208.70" y2="215.59" stroke="#000" stroke-width="0.6" />
<line x1="207.50" y1="209.67" x2="208.70" y2="209.67" stroke="#000" stroke-width="0.6" />
<line x1="207.50" y1="205.47" x2="208.70" y2="205.47" stroke="#000" stroke-width="0.6" />
<line x1="207.50" y1="202.21" x2="208.70" y2="202.21" stroke="#000" stroke-width="0.6" />
<line x1="207.50" y1="199.55" x2="208.70" y2="199.55" stroke="#000" stroke-width="0.6" />
<line x1="207.50" y1="197.30" x2="208.70" y2="197.30" stroke="#000" stroke-width="0.6" />
<line x1="207.50" y1="195.36" x2="208.70" y2="195.36" stroke="#000" stroke-width="0.6" />
<line x1="207.50" y1="193.64" x2="208.70" y2="193.64" stroke="#000" stroke-width="0.6" />
<line x1="216.30" y1="326.60" x2="216.30" y2="324.40" stroke="#000" stroke-width="0.6" />
<text x="216.3" y="335.5" font-size="6.5" fill="#000" font-weight="bold" text-anchor="middle"  stroke="#000" stroke-width="0.12">2.6</text>
<line x1="234.65" y1="326.60" x2="234.65" y2="324.40" stroke="#000" stroke-width="0.6" />
<text x="234.7" y="335.5" font-size="6.5" fill="#000" font-weight="bold" text-anchor="middle"  stroke="#000" stroke-width="0.12">2.8</text>
<line x1="253.00" y1="326.60" x2="253.00" y2="324.40" stroke="#000" stroke-width="0.6" />
<text x="253.0" y="335.5" font-size="6.5" fill="#000" font-weight="bold" text-anchor="middle"  stroke="#000" stroke-width="0.12">3.0</text>
<line x1="271.35" y1="326.60" x2="271.35" y2="324.40" stroke="#000" stroke-width="0.6" />
<text x="271.4" y="335.5" font-size="6.5" fill="#000" font-weight="bold" text-anchor="middle"  stroke="#000" stroke-width="0.12">3.2</text>
<line x1="289.70" y1="326.60" x2="289.70" y2="324.40" stroke="#000" stroke-width="0.6" />
<text x="289.7" y="335.5" font-size="6.5" fill="#000" font-weight="bold" text-anchor="middle"  stroke="#000" stroke-width="0.12">3.4</text>
<line x1="308.05" y1="326.60" x2="308.05" y2="324.40" stroke="#000" stroke-width="0.6" />
<text x="308.1" y="335.5" font-size="6.5" fill="#000" font-weight="bold" text-anchor="middle"  stroke="#000" stroke-width="0.12">3.6</text>
<line x1="326.40" y1="326.60" x2="326.40" y2="324.40" stroke="#000" stroke-width="0.6" />
<text x="326.4" y="335.5" font-size="6.5" fill="#000" font-weight="bold" text-anchor="middle"  stroke="#000" stroke-width="0.12">3.8</text>
<rect x="207.5" y="192.1" width="127.69999999999999" height="134.50000000000003" fill="none" stroke="#000" stroke-width="1.0"/>
<text x="204.2" y="329.1" font-size="6.6" fill="#000" font-weight="bold" text-anchor="end" stroke="#000" stroke-width="0.12">10<tspan font-size="3.96" dy="-2.97">0</tspan></text>
<text x="204.2" y="295.5" font-size="6.6" fill="#000" font-weight="bold" text-anchor="end" stroke="#000" stroke-width="0.12">10<tspan font-size="3.96" dy="-2.97">1</tspan></text>
<text x="204.2" y="261.9" font-size="6.6" fill="#000" font-weight="bold" text-anchor="end" stroke="#000" stroke-width="0.12">10<tspan font-size="3.96" dy="-2.97">2</tspan></text>
<text x="204.2" y="228.3" font-size="6.6" fill="#000" font-weight="bold" text-anchor="end" stroke="#000" stroke-width="0.12">10<tspan font-size="3.96" dy="-2.97">3</tspan></text>
<text x="204.2" y="194.7" font-size="6.6" fill="#000" font-weight="bold" text-anchor="end" stroke="#000" stroke-width="0.12">10<tspan font-size="3.96" dy="-2.97">4</tspan></text>
<text x="271.4" y="345.7" font-size="7.7" fill="#000" font-weight="bold" text-anchor="middle" textLength="107.2" lengthAdjust="spacingAndGlyphs" stroke="#000" stroke-width="0.12">Kinetic diameters of gases (Å)</text>
<text transform="translate(189.7,258.8) rotate(-90)" font-size="7.7" font-weight="bold" text-anchor="middle" fill="#000" stroke="#000" stroke-width="0.12">Gas permeance (GPU)</text>
<text x="217.5" y="189.0" font-size="6.4" fill="#000" font-weight="bold" text-anchor="middle"  stroke="#000" stroke-width="0.12">He</text>
<text x="243.8" y="189.0" font-size="6.4" fill="#000" font-weight="bold" text-anchor="middle" stroke="#000" stroke-width="0.12">H<tspan font-size="3.97" dy="2.69">2</tspan><tspan dy="-2.69"></tspan></text>
<text x="281.8" y="189.0" font-size="6.4" fill="#000" font-weight="bold" text-anchor="middle" stroke="#000" stroke-width="0.12">CO<tspan font-size="3.97" dy="2.69">2</tspan><tspan dy="-2.69"></tspan></text>
<text x="297.2" y="189.0" font-size="6.4" fill="#000" font-weight="bold" text-anchor="middle" stroke="#000" stroke-width="0.12">O<tspan font-size="3.97" dy="2.69">2</tspan><tspan dy="-2.69"></tspan></text>
<text x="313.6" y="189.0" font-size="6.4" fill="#000" font-weight="bold" text-anchor="middle" stroke="#000" stroke-width="0.12">N<tspan font-size="3.97" dy="2.69">2</tspan><tspan dy="-2.69"></tspan></text>
<text x="326.8" y="189.0" font-size="6.4" fill="#000" font-weight="bold" text-anchor="middle" stroke="#000" stroke-width="0.12">CH<tspan font-size="3.97" dy="2.69">4</tspan><tspan dy="-2.69"></tspan></text>
<polyline points="216.3,220.8 243.0,217.4 279.9,240.0 295.0,234.6 311.5,232.5 326.2,228.5" fill="none" stroke="#9d8fdc" stroke-width="0.7" />
<polyline points="216.3,279.8 243.0,280.2 279.9,256.7 295.0,293.5 311.5,295.7 326.2,289.7" fill="none" stroke="#555555" stroke-width="0.7" />
<polyline points="216.3,289.2 243.0,291.7 279.9,256.0 295.0,303.0 311.5,315.2 326.2,305.2" fill="none" stroke="#ff6a6a" stroke-width="0.7" />
<circle cx="216.3" cy="220.8" r="1.6" fill="#fff" stroke="#9d8fdc" stroke-width="0.6"/>
<circle cx="243.0" cy="217.4" r="1.6" fill="#fff" stroke="#9d8fdc" stroke-width="0.6"/>
<circle cx="279.9" cy="240.0" r="1.6" fill="#fff" stroke="#9d8fdc" stroke-width="0.6"/>
<circle cx="295.0" cy="234.6" r="1.6" fill="#fff" stroke="#9d8fdc" stroke-width="0.6"/>
<circle cx="311.5" cy="232.5" r="1.6" fill="#fff" stroke="#9d8fdc" stroke-width="0.6"/>
<circle cx="326.2" cy="228.5" r="1.6" fill="#fff" stroke="#9d8fdc" stroke-width="0.6"/>
<line x1="216.30" y1="277.30" x2="216.30" y2="282.30" stroke="#555555" stroke-width="0.5" />
<rect x="214.8" y="278.3" width="3.0" height="3.0" fill="#fff" stroke="#555555" stroke-width="0.6"/>
<line x1="243.00" y1="277.70" x2="243.00" y2="282.70" stroke="#555555" stroke-width="0.5" />
<rect x="241.5" y="278.7" width="3.0" height="3.0" fill="#fff" stroke="#555555" stroke-width="0.6"/>
<line x1="279.90" y1="254.20" x2="279.90" y2="259.20" stroke="#555555" stroke-width="0.5" />
<rect x="278.4" y="255.2" width="3.0" height="3.0" fill="#fff" stroke="#555555" stroke-width="0.6"/>
<line x1="295.00" y1="291.00" x2="295.00" y2="296.00" stroke="#555555" stroke-width="0.5" />
<rect x="293.5" y="292.0" width="3.0" height="3.0" fill="#fff" stroke="#555555" stroke-width="0.6"/>
<line x1="311.50" y1="293.20" x2="311.50" y2="298.20" stroke="#555555" stroke-width="0.5" />
<rect x="310.0" y="294.2" width="3.0" height="3.0" fill="#fff" stroke="#555555" stroke-width="0.6"/>
<line x1="326.20" y1="287.20" x2="326.20" y2="292.20" stroke="#555555" stroke-width="0.5" />
<rect x="324.7" y="288.2" width="3.0" height="3.0" fill="#fff" stroke="#555555" stroke-width="0.6"/>
<line x1="216.30" y1="286.70" x2="216.30" y2="291.70" stroke="#ff6a6a" stroke-width="0.5" />
<polygon points="214.4,290.5 218.2,290.5 216.3,287.3" fill="#fff" stroke="#ff6a6a" stroke-width="0.6"/>
<line x1="243.00" y1="289.20" x2="243.00" y2="294.20" stroke="#ff6a6a" stroke-width="0.5" />
<polygon points="241.1,293.0 244.9,293.0 243.0,289.8" fill="#fff" stroke="#ff6a6a" stroke-width="0.6"/>
<line x1="279.90" y1="253.50" x2="279.90" y2="258.50" stroke="#ff6a6a" stroke-width="0.5" />
<polygon points="278.0,257.3 281.8,257.3 279.9,254.1" fill="#fff" stroke="#ff6a6a" stroke-width="0.6"/>
<line x1="295.00" y1="300.50" x2="295.00" y2="305.50" stroke="#ff6a6a" stroke-width="0.5" />
<polygon points="293.1,304.3 296.9,304.3 295.0,301.1" fill="#fff" stroke="#ff6a6a" stroke-width="0.6"/>
<line x1="311.50" y1="312.70" x2="311.50" y2="317.70" stroke="#ff6a6a" stroke-width="0.5" />
<polygon points="309.6,316.5 313.4,316.5 311.5,313.3" fill="#fff" stroke="#ff6a6a" stroke-width="0.6"/>
<line x1="326.20" y1="302.70" x2="326.20" y2="307.70" stroke="#ff6a6a" stroke-width="0.5" />
<polygon points="324.3,306.5 328.1,306.5 326.2,303.3" fill="#fff" stroke="#ff6a6a" stroke-width="0.6"/>
<text x="262.1" y="223.4" font-size="7.0" fill="#7050c0" font-weight="bold" text-anchor="start" textLength="46.9" lengthAdjust="spacingAndGlyphs" stroke="#7050c0" stroke-width="0.12">Uncoated PES</text>
<polyline points="310.5,221.5 318.8,221.5 320.0,229.5" fill="none" stroke="#9d8fdc" stroke-width="0.7" />
<text x="228.2" y="263.3" font-size="7.0" fill="#111" font-weight="bold" text-anchor="start" textLength="28.5" lengthAdjust="spacingAndGlyphs" stroke="#111" stroke-width="0.12">Dry state</text>
<polyline points="258.5,261.5 266.5,262.0 268.5,268.0" fill="none" stroke="#555555" stroke-width="0.6" />
<text x="224.1" y="313.4" font-size="7.0" fill="#ff1c1c" font-weight="bold" text-anchor="start" textLength="67" lengthAdjust="spacingAndGlyphs" stroke="#ff1c1c" stroke-width="0.12">Hydrated state (85%)</text>
<polyline points="292.0,311.0 296.0,311.0 298.0,305.0" fill="none" stroke="#ff6a6a" stroke-width="0.6" />
<line x1="392.90" y1="223.30" x2="395.10" y2="223.30" stroke="#000" stroke-width="0.6" />
<text x="390.7" y="225.6" font-size="6.5" fill="#000" font-weight="bold" text-anchor="end"  stroke="#000" stroke-width="0.12">1000</text>
<line x1="392.90" y1="212.83" x2="395.10" y2="212.83" stroke="#000" stroke-width="0.6" />
<text x="390.7" y="215.1" font-size="6.5" fill="#000" font-weight="bold" text-anchor="end"  stroke="#000" stroke-width="0.12">2000</text>
<line x1="392.90" y1="202.36" x2="395.10" y2="202.36" stroke="#000" stroke-width="0.6" />
<text x="390.7" y="204.7" font-size="6.5" fill="#000" font-weight="bold" text-anchor="end"  stroke="#000" stroke-width="0.12">3000</text>
<line x1="392.90" y1="191.89" x2="395.10" y2="191.89" stroke="#000" stroke-width="0.6" />
<text x="390.7" y="194.2" font-size="6.5" fill="#000" font-weight="bold" text-anchor="end"  stroke="#000" stroke-width="0.12">4000</text>
<line x1="392.90" y1="324.00" x2="395.10" y2="324.00" stroke="#000" stroke-width="0.6" />
<text x="390.7" y="326.3" font-size="6.5" fill="#000" font-weight="bold" text-anchor="end"  stroke="#000" stroke-width="0.12">0</text>
<line x1="392.90" y1="308.83" x2="395.10" y2="308.83" stroke="#000" stroke-width="0.6" />
<text x="390.7" y="311.1" font-size="6.5" fill="#000" font-weight="bold" text-anchor="end"  stroke="#000" stroke-width="0.12">20</text>
<line x1="392.90" y1="293.66" x2="395.10" y2="293.66" stroke="#000" stroke-width="0.6" />
<text x="390.7" y="296.0" font-size="6.5" fill="#000" font-weight="bold" text-anchor="end"  stroke="#000" stroke-width="0.12">40</text>
<line x1="392.90" y1="278.49" x2="395.10" y2="278.49" stroke="#000" stroke-width="0.6" />
<text x="390.7" y="280.8" font-size="6.5" fill="#000" font-weight="bold" text-anchor="end"  stroke="#000" stroke-width="0.12">60</text>
<line x1="392.90" y1="263.32" x2="395.10" y2="263.32" stroke="#000" stroke-width="0.6" />
<text x="390.7" y="265.6" font-size="6.5" fill="#000" font-weight="bold" text-anchor="end"  stroke="#000" stroke-width="0.12">80</text>
<line x1="392.90" y1="248.15" x2="395.10" y2="248.15" stroke="#000" stroke-width="0.6" />
<text x="390.7" y="250.5" font-size="6.5" fill="#000" font-weight="bold" text-anchor="end"  stroke="#000" stroke-width="0.12">100</text>
<line x1="521.80" y1="326.90" x2="519.60" y2="326.90" stroke="#2b55b0" stroke-width="0.6" />
<text x="525.3" y="329.2" font-size="6.6" fill="#2b55b0" font-weight="bold" text-anchor="start"  stroke="#2b55b0" stroke-width="0.12">0</text>
<line x1="521.80" y1="300.00" x2="519.60" y2="300.00" stroke="#2b55b0" stroke-width="0.6" />
<text x="525.3" y="302.3" font-size="6.6" fill="#2b55b0" font-weight="bold" text-anchor="start"  stroke="#2b55b0" stroke-width="0.12">10</text>
<line x1="521.80" y1="273.10" x2="519.60" y2="273.10" stroke="#2b55b0" stroke-width="0.6" />
<text x="525.3" y="275.4" font-size="6.6" fill="#2b55b0" font-weight="bold" text-anchor="start"  stroke="#2b55b0" stroke-width="0.12">20</text>
<line x1="521.80" y1="246.20" x2="519.60" y2="246.20" stroke="#2b55b0" stroke-width="0.6" />
<text x="525.3" y="248.5" font-size="6.6" fill="#2b55b0" font-weight="bold" text-anchor="start"  stroke="#2b55b0" stroke-width="0.12">30</text>
<line x1="521.80" y1="219.30" x2="519.60" y2="219.30" stroke="#2b55b0" stroke-width="0.6" />
<text x="525.3" y="221.6" font-size="6.6" fill="#2b55b0" font-weight="bold" text-anchor="start"  stroke="#2b55b0" stroke-width="0.12">40</text>
<line x1="521.80" y1="192.40" x2="519.60" y2="192.40" stroke="#2b55b0" stroke-width="0.6" />
<text x="525.3" y="194.7" font-size="6.6" fill="#2b55b0" font-weight="bold" text-anchor="start"  stroke="#2b55b0" stroke-width="0.12">50</text>
<line x1="409.70" y1="327.10" x2="409.70" y2="324.90" stroke="#000" stroke-width="0.6" />
<text x="409.7" y="336.3" font-size="6.6" fill="#000" font-weight="bold" text-anchor="middle"  stroke="#000" stroke-width="0.12">30</text>
<line x1="430.06" y1="327.10" x2="430.06" y2="324.90" stroke="#000" stroke-width="0.6" />
<text x="430.1" y="336.3" font-size="6.6" fill="#000" font-weight="bold" text-anchor="middle"  stroke="#000" stroke-width="0.12">60</text>
<line x1="450.42" y1="327.10" x2="450.42" y2="324.90" stroke="#000" stroke-width="0.6" />
<text x="450.4" y="336.3" font-size="6.6" fill="#000" font-weight="bold" text-anchor="middle"  stroke="#000" stroke-width="0.12">90</text>
<line x1="470.78" y1="327.10" x2="470.78" y2="324.90" stroke="#000" stroke-width="0.6" />
<text x="470.8" y="336.3" font-size="6.6" fill="#000" font-weight="bold" text-anchor="middle"  stroke="#000" stroke-width="0.12">120</text>
<line x1="491.14" y1="327.10" x2="491.14" y2="324.90" stroke="#000" stroke-width="0.6" />
<text x="491.1" y="336.3" font-size="6.6" fill="#000" font-weight="bold" text-anchor="middle"  stroke="#000" stroke-width="0.12">150</text>
<line x1="511.50" y1="327.10" x2="511.50" y2="324.90" stroke="#000" stroke-width="0.6" />
<text x="511.5" y="336.3" font-size="6.6" fill="#000" font-weight="bold" text-anchor="middle"  stroke="#000" stroke-width="0.12">180</text>
<line x1="392.90" y1="192.00" x2="521.80" y2="192.00" stroke="#000" stroke-width="1.0" />
<line x1="392.90" y1="191.50" x2="392.90" y2="327.60" stroke="#000" stroke-width="1.0" />
<line x1="392.40" y1="327.10" x2="521.80" y2="327.10" stroke="#000" stroke-width="1.0" />
<line x1="521.80" y1="191.50" x2="521.80" y2="327.60" stroke="#2b55b0" stroke-width="1.0" />
<rect x="391.4" y="230.3" width="3" height="2.2" fill="#fff"/>
<line x1="389.90" y1="232.00" x2="394.90" y2="229.50" stroke="#000" stroke-width="0.7" />
<line x1="389.90" y1="234.00" x2="394.90" y2="231.50" stroke="#000" stroke-width="0.7" />
<text x="427.5" y="345.2" font-size="7.7" font-weight="bold" fill="#000" textLength="60" lengthAdjust="spacingAndGlyphs" stroke="#000" stroke-width="0.12">Temperature (<tspan font-size="4.6" dy="-3.2">o</tspan><tspan dy="3.2">C)</tspan></text>
<text transform="translate(371.8,260.7) rotate(-90)" font-size="7.7" font-weight="bold" text-anchor="middle" fill="#000" stroke="#000" stroke-width="0.12">Gas permeance (GPU)</text>
<text transform="translate(541.3,258.8) rotate(90)" font-size="7.4" font-weight="bold" text-anchor="middle" fill="#2b55b0" stroke="#2b55b0" stroke-width="0.12">Selectivity (H<tspan font-size="4.4" dy="1.8">2</tspan><tspan dy="-1.8">/CO</tspan><tspan font-size="4.4" dy="1.8">2</tspan><tspan dy="-1.8">)</tspan></text>
<polyline points="406.3,217.4 443.6,214.3 470.8,212.3 484.4,209.7 511.5,208.6" fill="none" stroke="#b3202a" stroke-width="0.9" />
<polyline points="406.3,230.0 443.6,229.0 470.8,229.0 484.4,229.0 511.5,228.4" fill="none" stroke="#9d8fdc" stroke-width="0.8" />
<line x1="406.31" y1="213.90" x2="406.31" y2="220.90" stroke="#b3202a" stroke-width="0.6" />
<line x1="405.11" y1="213.90" x2="407.51" y2="213.90" stroke="#b3202a" stroke-width="0.6" />
<line x1="405.11" y1="220.90" x2="407.51" y2="220.90" stroke="#b3202a" stroke-width="0.6" />
<polygon points="404.3,216.0 408.3,216.0 406.3,219.4" fill="#b3202a" stroke="#b3202a" stroke-width="0.6"/>
<line x1="443.63" y1="210.80" x2="443.63" y2="217.80" stroke="#b3202a" stroke-width="0.6" />
<line x1="442.44" y1="210.80" x2="444.83" y2="210.80" stroke="#b3202a" stroke-width="0.6" />
<line x1="442.44" y1="217.80" x2="444.83" y2="217.80" stroke="#b3202a" stroke-width="0.6" />
<polygon points="441.6,212.9 445.6,212.9 443.6,216.3" fill="#b3202a" stroke="#b3202a" stroke-width="0.6"/>
<line x1="470.78" y1="208.80" x2="470.78" y2="215.80" stroke="#b3202a" stroke-width="0.6" />
<line x1="469.58" y1="208.80" x2="471.98" y2="208.80" stroke="#b3202a" stroke-width="0.6" />
<line x1="469.58" y1="215.80" x2="471.98" y2="215.80" stroke="#b3202a" stroke-width="0.6" />
<polygon points="468.8,210.9 472.8,210.9 470.8,214.3" fill="#b3202a" stroke="#b3202a" stroke-width="0.6"/>
<line x1="484.36" y1="206.20" x2="484.36" y2="213.20" stroke="#b3202a" stroke-width="0.6" />
<line x1="483.16" y1="206.20" x2="485.56" y2="206.20" stroke="#b3202a" stroke-width="0.6" />
<line x1="483.16" y1="213.20" x2="485.56" y2="213.20" stroke="#b3202a" stroke-width="0.6" />
<polygon points="482.4,208.3 486.4,208.3 484.4,211.7" fill="#b3202a" stroke="#b3202a" stroke-width="0.6"/>
<line x1="511.50" y1="205.10" x2="511.50" y2="212.10" stroke="#b3202a" stroke-width="0.6" />
<line x1="510.31" y1="205.10" x2="512.71" y2="205.10" stroke="#b3202a" stroke-width="0.6" />
<line x1="510.31" y1="212.10" x2="512.71" y2="212.10" stroke="#b3202a" stroke-width="0.6" />
<polygon points="509.5,207.2 513.5,207.2 511.5,210.6" fill="#b3202a" stroke="#b3202a" stroke-width="0.6"/>
<polygon points="404.5,231.3 408.1,231.3 406.3,228.2" fill="#fff" stroke="#9d8fdc" stroke-width="0.6"/>
<polygon points="441.8,230.3 445.4,230.3 443.6,227.2" fill="#fff" stroke="#9d8fdc" stroke-width="0.6"/>
<polygon points="469.0,230.3 472.6,230.3 470.8,227.2" fill="#fff" stroke="#9d8fdc" stroke-width="0.6"/>
<polygon points="482.6,230.3 486.2,230.3 484.4,227.2" fill="#fff" stroke="#9d8fdc" stroke-width="0.6"/>
<polygon points="509.7,229.7 513.3,229.7 511.5,226.6" fill="#fff" stroke="#9d8fdc" stroke-width="0.6"/>
<polyline points="406.3,307.6 423.3,305.0 443.6,302.2 477.6,292.1 484.4,289.5 491.1,287.8 511.5,274.7" fill="none" stroke="#555555" stroke-width="0.7" />
<polyline points="406.3,237.8 423.3,316.0 443.6,321.8 477.6,322.3 484.4,322.5 491.1,322.3 511.5,320.9" fill="none" stroke="#ff6a6a" stroke-width="0.9" />
<polyline points="406.3,327.0 423.3,321.1 443.6,303.5 477.6,259.5 484.4,221.6 491.1,263.6 511.5,281.3" fill="none" stroke="#6f8fe0" stroke-width="0.8" />
<rect x="404.7" y="306.0" width="3.2" height="3.2" fill="#fff" stroke="#555555" stroke-width="0.6"/>
<rect x="421.7" y="303.4" width="3.2" height="3.2" fill="#fff" stroke="#555555" stroke-width="0.6"/>
<rect x="442.0" y="300.6" width="3.2" height="3.2" fill="#fff" stroke="#555555" stroke-width="0.6"/>
<rect x="476.0" y="290.5" width="3.2" height="3.2" fill="#fff" stroke="#555555" stroke-width="0.6"/>
<rect x="482.8" y="287.9" width="3.2" height="3.2" fill="#fff" stroke="#555555" stroke-width="0.6"/>
<rect x="489.5" y="286.2" width="3.2" height="3.2" fill="#fff" stroke="#555555" stroke-width="0.6"/>
<rect x="509.9" y="273.1" width="3.2" height="3.2" fill="#fff" stroke="#555555" stroke-width="0.6"/>
<circle cx="406.3" cy="237.8" r="2.0" fill="#fff" stroke="#ff6a6a" stroke-width="0.6"/>
<circle cx="423.3" cy="316.0" r="2.0" fill="#fff" stroke="#ff6a6a" stroke-width="0.6"/>
<polygon points="443.6,319.8 445.6,321.8 443.6,323.8 441.6,321.8" fill="#ff6a6a" stroke="#ff6a6a" stroke-width="0.6"/>
<polygon points="477.6,320.3 479.6,322.3 477.6,324.3 475.6,322.3" fill="#ff6a6a" stroke="#ff6a6a" stroke-width="0.6"/>
<polygon points="484.4,320.5 486.4,322.5 484.4,324.5 482.4,322.5" fill="#ff6a6a" stroke="#ff6a6a" stroke-width="0.6"/>
<polygon points="491.1,320.3 493.1,322.3 491.1,324.3 489.1,322.3" fill="#ff6a6a" stroke="#ff6a6a" stroke-width="0.6"/>
<polygon points="511.5,318.9 513.5,320.9 511.5,322.9 509.5,320.9" fill="#ff6a6a" stroke="#ff6a6a" stroke-width="0.6"/>
<line x1="406.31" y1="237.80" x2="406.31" y2="245.80" stroke="#ff6a6a" stroke-width="0.6" />
<line x1="405.11" y1="245.80" x2="407.51" y2="245.80" stroke="#ff6a6a" stroke-width="0.6" />
<polygon points="423.3,318.9 425.5,321.1 423.3,323.3 421.1,321.1" fill="#6f8fe0" stroke="#6f8fe0" stroke-width="0.6"/>
<circle cx="443.6" cy="303.5" r="1.8" fill="#fff" stroke="#6f8fe0" stroke-width="0.6"/>
<circle cx="477.6" cy="259.5" r="1.8" fill="#fff" stroke="#6f8fe0" stroke-width="0.6"/>
<circle cx="484.4" cy="221.6" r="1.8" fill="#fff" stroke="#6f8fe0" stroke-width="0.6"/>
<circle cx="491.1" cy="263.6" r="1.8" fill="#fff" stroke="#6f8fe0" stroke-width="0.6"/>
<circle cx="511.5" cy="281.3" r="1.8" fill="#fff" stroke="#6f8fe0" stroke-width="0.6"/>
<line x1="484.36" y1="216.50" x2="484.36" y2="226.00" stroke="#6f8fe0" stroke-width="0.6" />
<line x1="483.16" y1="216.50" x2="485.56" y2="216.50" stroke="#6f8fe0" stroke-width="0.6" />
<text x="418.2" y="208.0" font-size="7.0" fill="#b3202a" font-weight="bold" text-anchor="start" stroke="#b3202a" stroke-width="0.12">H<tspan font-size="4.34" dy="2.94">2</tspan><tspan dy="-2.94">(Uncoated PES)</tspan></text>
<text x="413.9" y="238.4" font-size="7.0" fill="#7050c0" font-weight="bold" text-anchor="start" stroke="#7050c0" stroke-width="0.12">CO<tspan font-size="4.34" dy="2.94">2</tspan><tspan dy="-2.94">(Uncoated PES)</tspan></text>
<text x="508.0" y="268.7" font-size="7.8" fill="#000" font-weight="bold" text-anchor="start" stroke="#000" stroke-width="0.12">H<tspan font-size="4.84" dy="3.28">2</tspan><tspan dy="-3.28"></tspan></text>
<text x="505.7" y="316.9" font-size="7.9" fill="#ff1c1c" font-weight="bold" text-anchor="start" stroke="#ff1c1c" stroke-width="0.12">CO<tspan font-size="4.90" dy="3.32">2</tspan><tspan dy="-3.32"></tspan></text>
<line x1="400.50" y1="210.30" x2="404.00" y2="210.30" stroke="#b3202a" stroke-width="0.8" />
<polygon points="398.5,210.3 401.5,209.1 401.5,211.5" fill="#b3202a"/>
<polyline points="404.0,210.3 405.5,210.3 406.0,214.0" fill="none" stroke="#b3202a" stroke-width="0.6" />
<line x1="408.0" y1="212.8" x2="424.5" y2="212.8" stroke="#b3202a" stroke-width="0.8" stroke-dasharray="2.2,1.6"/>
<polygon points="427.0,212.8 424.0,211.5 424.0,214.1" fill="#b3202a"/>
<line x1="419.5" y1="218.6" x2="435.0" y2="218.6" stroke="#b3202a" stroke-width="0.8" stroke-dasharray="2.2,1.6"/>
<polygon points="417.0,218.6 420.0,217.3 420.0,219.9" fill="#b3202a"/>
<line x1="493.5" y1="213" x2="506.5" y2="213" stroke="#b3202a" stroke-width="0.8" stroke-dasharray="2.2,1.6"/>
<polygon points="491.0,213.0 494.0,211.7 494.0,214.3" fill="#b3202a"/>
<line x1="400.50" y1="225.40" x2="404.00" y2="225.40" stroke="#7050c0" stroke-width="0.8" />
<polygon points="398.5,225.4 401.5,224.2 401.5,226.6" fill="#7050c0"/>
<polyline points="404.0,225.4 405.5,225.4 406.0,228.5" fill="none" stroke="#7050c0" stroke-width="0.6" />
<line x1="406.0" y1="227.1" x2="424.5" y2="227.1" stroke="#7050c0" stroke-width="0.8" stroke-dasharray="2.2,1.6"/>
<polygon points="427.0,227.1 424.0,225.8 424.0,228.4" fill="#7050c0"/>
<line x1="493.5" y1="231.3" x2="508.0" y2="231.3" stroke="#7050c0" stroke-width="0.8" stroke-dasharray="2.2,1.6"/>
<polygon points="491.0,231.3 494.0,230.0 494.0,232.6" fill="#7050c0"/>
<line x1="428.00" y1="299.50" x2="431.00" y2="299.50" stroke="#222" stroke-width="0.8" />
<polygon points="426.0,299.5 429.0,298.3 429.0,300.7" fill="#222"/>
<polyline points="431.0,299.5 433.0,299.5 433.5,303.5" fill="none" stroke="#555555" stroke-width="0.6" />
<polyline points="476.5,262.5 477.0,268.0 480.0,268.0" fill="none" stroke="#2b55b0" stroke-width="0.6" />
<line x1="479.00" y1="268.00" x2="482.00" y2="268.00" stroke="#2b55b0" stroke-width="0.8" />
<polygon points="484.0,268.0 481.0,266.8 481.0,269.2" fill="#2b55b0"/>
<line x1="459.00" y1="319.00" x2="463.00" y2="319.00" stroke="#ff1c1c" stroke-width="0.8" />
<polygon points="457.0,319.0 460.0,317.8 460.0,320.2" fill="#ff1c1c"/>
<polyline points="463.0,319.0 465.0,319.0 465.5,322.0" fill="none" stroke="#ff6a6a" stroke-width="0.6" />
</svg>
</body></html>
